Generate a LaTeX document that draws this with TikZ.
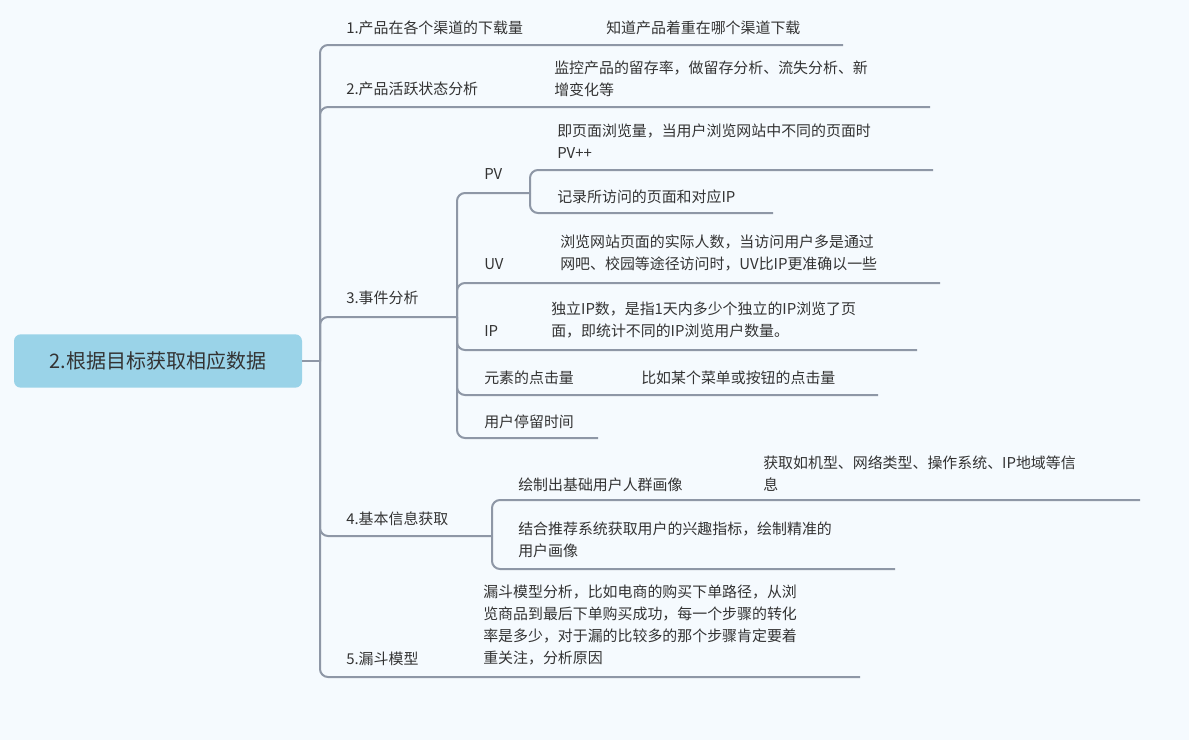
\documentclass[tikz,border=0pt]{standalone}
\usepackage{fontspec}
\setmainfont{Noto Sans CJK SC}
\definecolor{bgcol}{HTML}{F5FAFE}
\definecolor{linecol}{HTML}{8E97A6}
\definecolor{rootcol}{HTML}{9AD3E8}
\definecolor{txtcol}{HTML}{333333}
\tikzset{
  txt/.style={anchor=west, inner sep=0pt, text=txtcol, font=\fontsize{11.2}{16.5}\selectfont, align=left},
  branch/.style={draw=linecol, line width=1.5pt, rounded corners=6pt},
}
\begin{document}
\begin{tikzpicture}[x=0.75pt,y=-0.75pt]
  \fill[bgcol] (0,0) rectangle (1189,740);
  \useasboundingbox (0,0) rectangle (1189,740);
  % root
  \node[fill=rootcol, rounded corners=5pt, minimum width=216pt, minimum height=40pt,
        text=txtcol, font=\fontsize{15}{18}\selectfont] (root) at (158,361) {2.根据目标获取相应数据};
  \coordinate (hub) at (320,361);
  \draw[branch] (root.east) -- (hub);
  % level 1
  \node[txt] (b1) at (346,28) {1.产品在各个渠道的下载量};
  \node[txt] (c1) at (606,28) {知道产品着重在哪个渠道下载};
  \node[txt] (b2) at (346,89) {2.产品活跃状态分析};
  \node[txt] (c2) at (554,79) {监控产品的留存率，做留存分析、流失分析、新\\增变化等};
  \node[txt] (b3) at (346,298) {3.事件分析};
  \node[txt] (b4) at (346,519) {4.基本信息获取};
  \node[txt] (b5) at (346,659) {5.漏斗模型};
  \node[txt] (c5) at (483,625) {漏斗模型分析，比如电商的购买下单路径，从浏\\览商品到最后下单购买成功，每一个步骤的转化\\率是多少，对于漏的比较多的那个步骤肯定要着\\重关注，分析原因};
  \draw[branch] (hub) |- (843,45);
  \draw[branch] (hub) |- (930,107);
  \draw[branch] (hub) |- (457,317);
  \draw[branch] (hub) |- (492,536);
  \draw[branch] (hub) |- (860,677);
  % level 2 under 3
  \coordinate (hub3) at (457,317);
  \node[txt] (pv) at (484,174) {PV};
  \node[txt] (uv) at (484,264) {UV};
  \node[txt] (cuv) at (560,253) {浏览网站页面的实际人数，当访问用户多是通过\\网吧、校园等途径访问时，UV比IP更准确以一些};
  \node[txt] (ip) at (484,331) {IP};
  \node[txt] (cip) at (551,320) {独立IP数，是指1天内多少个独立的IP浏览了页\\面，即统计不同的IP浏览用户数量。};
  \node[txt] (clk) at (484,378) {元素的点击量};
  \node[txt] (cclk) at (641,378) {比如某个菜单或按钮的点击量};
  \node[txt] (stay) at (484,422) {用户停留时间};
  \draw[branch] (hub3) |- (530,193);
  \draw[branch] (hub3) |- (940,283);
  \draw[branch] (hub3) |- (917,350);
  \draw[branch] (hub3) |- (878,395);
  \draw[branch] (hub3) |- (598,438);
  % level 3 under PV
  \coordinate (hubpv) at (530,193);
  \node[txt] (cpv1) at (557,141) {即页面浏览量，当用户浏览网站中不同的页面时\\PV++};
  \node[txt] (cpv2) at (557,197) {记录所访问的页面和对应IP};
  \draw[branch] (hubpv) |- (933,170);
  \draw[branch] (hubpv) |- (773,213);
  % level 2 under 4
  \coordinate (hub4) at (492,536);
  \node[txt] (p1) at (518,485) {绘制出基础用户人群画像};
  \node[txt] (cp1) at (763,474) {获取如机型、网络类型、操作系统、IP地域等信\\息};
  \node[txt] (p2) at (518,540) {结合推荐系统获取用户的兴趣指标，绘制精准的\\用户画像};
  \draw[branch] (hub4) |- (1140,500);
  \draw[branch] (hub4) |- (895,569);
\end{tikzpicture}
\end{document}
